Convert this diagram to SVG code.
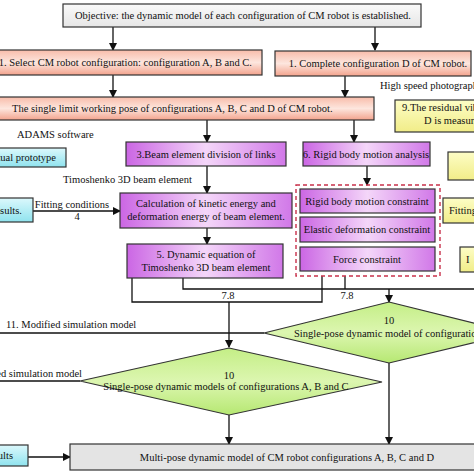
<svg xmlns="http://www.w3.org/2000/svg" width="474" height="474" viewBox="0 0 474 474">
<defs>
<style>
text{font-family:"Liberation Serif","Times New Roman",serif;font-size:10.5px;fill:#111}
.b{stroke:#333;stroke-width:1.2}
.c{fill:none;stroke:#111;stroke-width:1.3}
.m{text-anchor:middle}
.e{text-anchor:end}
</style>
<linearGradient id="gs" x1="0" y1="0" x2="0" y2="1"><stop offset="0" stop-color="#f8bcaa"/><stop offset="0.5" stop-color="#fde6de"/><stop offset="1" stop-color="#f3a38d"/></linearGradient>
<linearGradient id="gp" x1="0" y1="0" x2="1" y2="0"><stop offset="0" stop-color="#cb66e4"/><stop offset="0.5" stop-color="#f4d6f9"/><stop offset="1" stop-color="#d178e8"/></linearGradient>
<linearGradient id="gc" x1="0" y1="0" x2="0" y2="1"><stop offset="0" stop-color="#dcf8fc"/><stop offset="1" stop-color="#8fe3ee"/></linearGradient>
<linearGradient id="gy" x1="0" y1="0" x2="0" y2="1"><stop offset="0" stop-color="#fdfdc6"/><stop offset="1" stop-color="#f1ed88"/></linearGradient>
<linearGradient id="gg" x1="0" y1="0" x2="0" y2="1"><stop offset="0" stop-color="#c4ee86"/><stop offset="0.5" stop-color="#dcf6b0"/><stop offset="1" stop-color="#b6e872"/></linearGradient>
<linearGradient id="go" x1="0" y1="0" x2="0" y2="1"><stop offset="0" stop-color="#fafafa"/><stop offset="1" stop-color="#e6e6e6"/></linearGradient>
<marker id="ar" markerWidth="8" markerHeight="8" refX="7" refY="4" orient="auto" markerUnits="userSpaceOnUse"><path d="M0,0 L8,4 L0,8 Z" fill="#111"/></marker>
</defs>
<rect width="474" height="474" fill="#fff"/>

<g id="connectors">
<line class="c" x1="113" y1="27" x2="113" y2="50" marker-end="url(#ar)"/>
<line class="c" x1="375" y1="27" x2="375" y2="50" marker-end="url(#ar)"/>
<line class="c" x1="113" y1="75" x2="113" y2="97" marker-end="url(#ar)"/>
<line class="c" x1="345" y1="76" x2="345" y2="97" marker-end="url(#ar)"/>
<line class="c" x1="207" y1="120" x2="207" y2="142" marker-end="url(#ar)"/>
<line class="c" x1="354" y1="120" x2="354" y2="142" marker-end="url(#ar)"/>
<line class="c" x1="207" y1="166" x2="207" y2="193" marker-end="url(#ar)"/>
<line class="c" x1="367" y1="166" x2="367" y2="185" marker-end="url(#ar)"/>
<line class="c" x1="33" y1="211" x2="120" y2="211" marker-end="url(#ar)"/>
<line class="c" x1="207" y1="228" x2="207" y2="244" marker-end="url(#ar)"/>
<polyline class="c" points="132,278 132,302 322,302 322,276"/>
<polyline class="c" points="183,278 183,289 474,289"/>
<line class="c" x1="345" y1="276" x2="345" y2="289"/>
<line class="c" x1="229" y1="302" x2="229" y2="347" marker-end="url(#ar)"/>
<line class="c" x1="389" y1="289" x2="389" y2="302" marker-end="url(#ar)"/>
<line class="c" x1="0" y1="333" x2="264" y2="333"/>
<line class="c" x1="0" y1="381" x2="80" y2="381"/>
<line class="c" x1="229" y1="415" x2="229" y2="444" marker-end="url(#ar)"/>
<line class="c" x1="389" y1="363" x2="389" y2="444" marker-end="url(#ar)"/>
<line class="c" x1="28" y1="457" x2="70" y2="457" marker-end="url(#ar)"/>
<text x="228" y="299" class="m">7.8</text>
<text x="347" y="299" class="m">7.8</text>
<text x="72" y="208" class="m">Fitting conditions</text>
<text x="77" y="220" class="m">4</text>
<text x="63" y="183">Timoshenko 3D beam element</text>
<text x="17" y="138">ADAMS software</text>
<text x="380" y="89">High speed photography</text>
<text x="6" y="328">11. Modified simulation model</text>
<text x="82" y="377" class="e">12. Modified simulation model</text>
</g>

<g id="objective"><rect class="b" x="63" y="4" width="358" height="23" fill="url(#go)"/><text x="243" y="19" class="m">Objective: the dynamic model of each configuration of CM robot is established.</text></g>
<g id="select"><rect class="b" x="-5" y="50" width="267" height="25" fill="url(#gs)"/><text x="252" y="66" class="e">1. Select CM robot configuration: configuration A, B and C.</text></g>
<g id="complete"><rect class="b" x="275" y="51" width="196" height="25" fill="url(#gs)"/><text x="378" y="67" class="m">1. Complete configuration D of CM robot.</text></g>
<g id="single-limit"><rect class="b" x="-5" y="97" width="379" height="23" fill="url(#gs)"/><text x="12" y="112">The single limit working pose of configurations A, B, C and D of CM robot.</text></g>
<g id="residual"><rect class="b" x="395" y="100" width="85" height="32" fill="url(#gy)"/><text x="402" y="111">9.The residual vibration of configuration</text><text x="424" y="124">D is measured.</text></g>
<g id="virtual"><rect class="b" x="-5" y="148" width="71" height="19" fill="url(#gc)"/><text x="56" y="161" class="e">Virtual prototype</text></g>
<g id="beam-div"><rect class="b" x="126" y="142" width="160" height="24" fill="url(#gp)"/><text x="206" y="158" class="m">3.Beam element division of links</text></g>
<g id="rigid-analysis"><rect class="b" x="303" y="142" width="127" height="24" fill="url(#gp)"/><text x="366" y="158" class="m">6. Rigid body motion analysis</text></g>
<g id="yellow-b"><rect class="b" x="448" y="152" width="32" height="28" fill="url(#gy)"/></g>
<g id="results1"><rect class="b" x="-5" y="198" width="38" height="24" fill="url(#gc)"/><text x="22" y="214" class="e">Test results.</text></g>
<g id="calc"><rect class="b" x="120" y="193" width="172" height="35" fill="url(#gp)"/><text x="206" y="207" class="m">Calculation of kinetic energy and</text><text x="206" y="220" class="m">deformation energy of beam element.</text></g>
<g id="constraints">
<rect x="296" y="185" width="144" height="91" fill="none" stroke="#c8304a" stroke-width="1.4" stroke-dasharray="4,3"/>
<rect class="b" x="300" y="189" width="135" height="24" fill="url(#gp)"/><text x="367" y="205" class="m">Rigid body motion constraint</text>
<rect class="b" x="300" y="217" width="135" height="25" fill="url(#gp)"/><text x="367" y="233" class="m">Elastic deformation constraint</text>
<rect class="b" x="300" y="247" width="135" height="24" fill="url(#gp)"/><text x="367" y="263" class="m">Force constraint</text>
</g>
<g id="fitting-right"><rect class="b" x="443" y="198" width="37" height="25" fill="url(#gy)"/><text x="449" y="214">Fitting</text></g>
<g id="yellow-d"><rect class="b" x="460" y="247" width="20" height="25" fill="url(#gy)"/><text x="466" y="263">I</text></g>
<g id="dyn-eq"><rect class="b" x="127" y="244" width="156" height="34" fill="url(#gp)"/><text x="206" y="258" class="m">5. Dynamic equation of</text><text x="206" y="271" class="m">Timoshenko 3D beam element</text></g>
<g id="diamond-d"><polygon class="b" points="389,302 514,333 389,363 264,333" fill="url(#gg)"/><text x="389" y="324" class="m">10</text><text x="294" y="337">Single-pose dynamic model of configuration D</text></g>
<g id="diamond-abc"><polygon class="b" points="229,348 382,382 229,415 80,381" fill="url(#gg)"/><text x="229" y="379" class="m">10</text><text x="226" y="390" class="m">Single-pose dynamic models of configurations A, B and C</text></g>
<g id="multi"><rect class="b" x="70" y="444" width="410" height="26" fill="#e4e4e4"/><text x="287" y="461" class="m">Multi-pose dynamic model of CM robot configurations A, B, C and D</text></g>
<g id="results2"><rect class="b" x="-5" y="445" width="33" height="21" fill="url(#gc)"/><text x="13" y="459" class="e">Results</text></g>
</svg>
